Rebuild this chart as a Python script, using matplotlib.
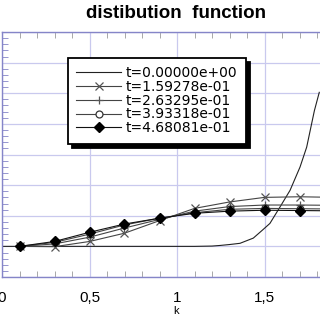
import matplotlib
matplotlib.use("Agg")
import matplotlib.pyplot as plt
from matplotlib.ticker import MultipleLocator

plt.rcParams['font.family'] = ['Liberation Sans', 'DejaVu Sans']

title = "distibution  function"
xlabel = "k"
labels = ["t=0.00000e+00", "t=1.59278e-01", "t=2.63295e-01", "t=3.93318e-01", "t=4.68081e-01"]
xtick_vals = [0, 0.5, 1, 1.5]
xtick_labels = ["0", "0,5", "1", "1,5"]

# t = 0 curve (no markers)
k0 = [0.0, 0.2, 0.4, 0.6, 0.8, 1.0, 1.1, 1.2, 1.246, 1.30, 1.36, 1.436, 1.49, 1.531, 1.589, 1.646, 1.703, 1.741, 1.785, 1.813]
f0 = [0.0, 0.0, 0.0, 0.0, 0.0, 0.0, 0.0, 0.01, 0.03, 0.06, 0.10, 0.27, 0.54, 0.75, 1.29, 1.83, 2.59, 3.24, 4.43, 5.03]

# sampled curves
k = [0.1, 0.3, 0.5, 0.7, 0.9, 1.1, 1.3, 1.5, 1.7, 1.9]
f1 = [0.0, -0.01, 0.16, 0.43, 0.84, 1.24, 1.45, 1.60, 1.62, 1.60]
f2 = [0.0, 0.08, 0.30, 0.60, 0.88, 1.15, 1.30, 1.35, 1.35, 1.34]
f3 = [0.0, 0.13, 0.40, 0.70, 0.92, 1.10, 1.21, 1.24, 1.23, 1.22]
f4 = [0.0, 0.16, 0.46, 0.73, 0.92, 1.08, 1.15, 1.18, 1.17, 1.16]

fig = plt.figure(figsize=(3.2, 3.2), dpi=100)
ax = fig.add_axes([2/320, 43/320, 350/320, 245/320])

spine_c = '#8585c8'
grid_c = '#c9c9ee'

ax.plot(k0, f0, color='#222222', lw=0.8, label=labels[0])
ax.plot(k, f1, color='#444444', lw=0.8, marker='x', ms=6, mew=0.9, mec='#555555', label=labels[1])
ax.plot(k, f2, color='#444444', lw=0.8, marker='+', ms=6, mew=0.9, mec='#555555', label=labels[2])
ax.plot(k, f3, color='#444444', lw=0.8, marker='o', ms=5, mew=0.9, mfc='white', mec='#333333', label=labels[3])
ax.plot(k, f4, color='#111111', lw=0.8, marker='D', ms=5.5, mfc='black', mec='black', label=labels[4])

ax.set_xlim(0, 2)
ax.set_ylim(-1, 7)
ax.xaxis.set_minor_locator(MultipleLocator(0.1))
ax.yaxis.set_major_locator(MultipleLocator(1))
ax.yaxis.set_minor_locator(MultipleLocator(0.2))
ax.set_xticks(xtick_vals)
ax.set_xticklabels(xtick_labels, fontsize=11)
ax.set_yticklabels([])
ax.grid(True, which='major', color=grid_c, lw=0.9)
ax.axvline(2.0, color=grid_c, lw=0.9, zorder=0)
ax.set_axisbelow(True)
for s in ax.spines.values():
    s.set_color(spine_c)
    s.set_linewidth(1.0)
ax.tick_params(axis='both', which='both', direction='in', top=True, right=True, color='#9a9a9a')
ax.tick_params(axis='x', which='major', length=0, pad=10)
ax.tick_params(axis='x', which='minor', length=4)
ax.tick_params(axis='y', which='major', length=0)
ax.tick_params(axis='y', which='minor', length=4, color=spine_c)

fig.text(176/320, 1 - 311/320, xlabel, ha='center', va='center', fontsize=8)
fig.text(176/320, 1 - 14/320, title, ha='center', va='center', fontsize=13.5, fontweight='bold')

leg = fig.legend(loc='upper left', bbox_to_anchor=(68/320, 1 - 58/320),
                 prop={'family': 'DejaVu Sans', 'size': 10},
                 frameon=True, fancybox=False, edgecolor='black', framealpha=1,
                 handlelength=3.2, handletextpad=0.35, labelspacing=-0.02,
                 borderpad=0.6, borderaxespad=0,
                 shadow={'color': 'black', 'alpha': 1, 'ox': 3, 'oy': -3})
leg.get_frame().set_linewidth(1.3)

fig.savefig("out.png", dpi=100)
